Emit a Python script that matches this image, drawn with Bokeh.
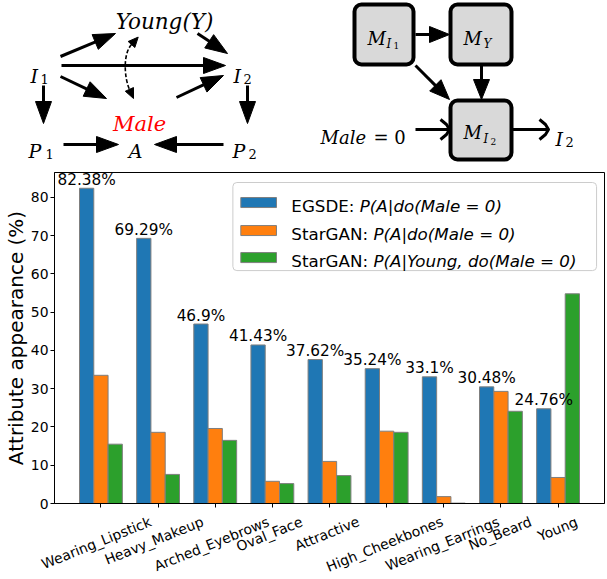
import math
from bokeh.plotting import figure
from bokeh.layouts import column
from bokeh.models import ColumnDataSource, Range1d, FixedTicker, LabelSet, Label, BoxAnnotation
from bokeh.transform import dodge
from bokeh.embed import file_html
from bokeh.resources import INLINE
from bokeh.core.properties import value

# ---------------- data ----------------
attributes = ["Wearing_Lipstick", "Heavy_Makeup", "Arched_Eyebrows", "Oval_Face", "Attractive",
              "High_Cheekbones", "Wearing_Earrings", "No_Beard", "Young"]
egsde_do = [82.38, 69.29, 46.9, 41.43, 37.62, 35.24, 33.1, 30.48, 24.76]
stargan_do = [33.5, 18.6, 19.6, 5.8, 11.0, 18.9, 1.8, 29.3, 6.8]
stargan_young_do = [15.5, 7.6, 16.5, 5.2, 7.3, 18.6, 0.1, 24.1, 54.8]
y_ticks = [0, 10, 20, 30, 40, 50, 60, 70, 80]
legend_prefix = ["EGSDE:", "StarGAN:", "StarGAN:"]
legend_math = ["P(A|do(Male = 0)", "P(A|do(Male = 0)", "P(A|Young, do(Male = 0)"]
bar_colors = ["#1f77b4", "#ff7f0e", "#2ca02c"]

# ---------------- layout constants ----------------
W = 607
H_TOP = 166
H_BOT = 346
H_STRIP = 66
FRAME_L = 49
FRAME_R = 3
BORDER_T = 6
BORDER_B = 9
SANS = "DejaVu Sans"
SERIF = "DejaVu Serif"


def px(v):
    return f"{v:.1f}px"


W_EM = {' ': .318, 'A': .684, 'B': .686, 'C': .698, 'D': .770, 'E': .632, 'F': .575, 'G': .775,
        'H': .752, 'L': .557, 'M': .863, 'N': .748, 'O': .787, 'S': .635, 'W': .989, 'Y': .612,
        '_': .5, ':': .337, 'a': .613, 'b': .635, 'c': .550, 'd': .635, 'e': .615, 'g': .635,
        'h': .634, 'i': .278, 'k': .579, 'l': .278, 'n': .634, 'o': .612, 'p': .635, 'r': .411,
        's': .521, 't': .392, 'u': .634, 'v': .592, 'w': .818, 'y': .592}


def text_em(s):
    return sum(W_EM.get(c, 0.6) for c in s)


# ---------------- top: diagrams ----------------
top = figure(width=W, height=H_TOP, x_range=Range1d(0, W), y_range=Range1d(0, H_TOP),
             x_axis_type=None, y_axis_type=None, output_backend="svg", toolbar_location=None,
             min_border=0)
top.frame_align = False
top.outline_line_color = None
top.grid.visible = False


def Y(y):
    return H_TOP - y


segs = dict(x0=[], y0=[], x1=[], y1=[])
heads = dict(xs=[], ys=[])


def head(tx, ty, ux, uy, hl, hw):
    nx, ny = -uy, ux
    bx, by = tx - hl * ux, ty - hl * uy
    heads["xs"].append([tx, bx + nx * hw / 2, bx - nx * hw / 2])
    heads["ys"].append([Y(ty), Y(by + ny * hw / 2), Y(by - ny * hw / 2)])
    return bx, by


def arrow(x0, y0, x1, y1, hl=22, hw=16):
    d = math.hypot(x1 - x0, y1 - y0)
    ux, uy = (x1 - x0) / d, (y1 - y0) / d
    bx, by = head(x1, y1, ux, uy, hl, hw)
    segs["x0"].append(x0)
    segs["y0"].append(Y(y0))
    segs["x1"].append(bx + ux)
    segs["y1"].append(Y(by + uy))


# left causal graph
arrow(60, 56, 115, 33)
arrow(197, 33, 227, 53)
arrow(61, 65, 225, 65)
arrow(60, 76, 106, 98)
arrow(176, 97, 223, 75)
arrow(43, 85, 43, 123)
arrow(247, 85, 247, 123)
arrow(63, 144, 118, 144)
arrow(223, 144, 154, 144)
# right graph
arrow(415, 34, 449, 34, 20, 16)
arrow(481, 65, 481, 99, 20, 16)
arrow(415, 65, 449, 99, 20, 16)

top.segment(x0="x0", y0="y0", x1="x1", y1="y1", source=ColumnDataSource(segs),
            line_color="black", line_width=3)
top.patches(xs="xs", ys="ys", source=ColumnDataSource(heads), fill_color="black",
            line_color="black", line_width=1)

# dashed bidirectional curve
top.bezier(x0=131, y0=Y(44), x1=129, y1=Y(89), cx0=122, cy0=Y(54), cx1=124, cy1=Y(78),
           line_color="black", line_width=1.6, line_dash="4 2")
small = dict(xs=[], ys=[])
for (tx, ty, ux, uy) in [(137.7, 36.6, 0.67, -0.74), (133.0, 98.0, 0.41, 0.91)]:
    nx, ny = -uy, ux
    bx, by = tx - 10 * ux, ty - 10 * uy
    small["xs"].append([tx, bx + nx * 4.5, bx - nx * 4.5])
    small["ys"].append([Y(ty), Y(by + ny * 4.5), Y(by - ny * 4.5)])
top.patches(xs="xs", ys="ys", source=ColumnDataSource(small), fill_color="black",
            line_color="black", line_width=1)

# open-chevron arrows
top.segment(x0=[415, 512], y0=[Y(129), Y(129)], x1=[448, 547], y1=[Y(129), Y(129)],
            line_color="black", line_width=3)
top.multi_line(xs=[[440, 446, 449, 446, 440], [539, 545, 548, 545, 539]],
               ys=[[Y(119), Y(124), Y(129), Y(134), Y(139)]] * 2,
               line_color="black", line_width=3, line_join="round")

# rounded boxes
for (l, r, t, b) in [(354, 413, 4, 64), (450, 511, 4, 64), (450, 511, 100, 159)]:
    top.add_layout(BoxAnnotation(left=l, right=r, top=Y(t), bottom=Y(b), border_radius=7,
                                 fill_color="#d9d9d9", fill_alpha=1, line_color="black",
                                 line_alpha=1, line_width=4))


def tlabel(x, y, text, size, style="italic", font=SERIF, color="black", align="left"):
    top.add_layout(Label(x=x, y=Y(y), text=text, text_font=font, text_font_size=px(size),
                         text_font_style=style, text_color=color, text_align=align,
                         text_baseline="alphabetic"))


tlabel(164, 21, "Young(Y)", 21.5, align="center")
tlabel(30, 75, "I", 19)
tlabel(40, 78, "1", 13, "normal")
tlabel(233, 75, "I", 19)
tlabel(243, 78, "2", 13, "normal")
tlabel(139, 123, "Male", 21, color="red", align="center")
tlabel(28, 150, "P", 19)
tlabel(45, 153, "1", 13, "normal")
tlabel(135, 150, "A", 19, align="center")
tlabel(232, 150, "P", 19)
tlabel(248, 153, "2", 13, "normal")

tlabel(367, 38, "M", 18)
tlabel(386, 43, "I", 12)
tlabel(393, 45, "1", 9, "normal")
tlabel(463, 38, "M", 18)
tlabel(483, 43, "Y", 12)
tlabel(463, 132, "M", 18)
tlabel(483, 138, "I", 12)
tlabel(490, 141, "2", 9, "normal")
tlabel(320, 137, "Male", 18)
tlabel(373, 137, "= 0", 18, "normal")
tlabel(555, 138, "I", 19)
tlabel(565, 141, "2", 13, "normal")

# ---------------- middle: bar chart ----------------
n = len(attributes)
x_idx = list(range(n))
ymax = max(egsde_do) * 1.05
XPAD = 0.8125
bot = figure(width=W, height=H_BOT, x_range=Range1d(-XPAD, n - 1 + XPAD), y_range=Range1d(0, ymax),
             output_backend="svg", toolbar_location=None,
             min_border_left=FRAME_L, min_border_right=FRAME_R, min_border_top=BORDER_T,
             min_border_bottom=BORDER_B)
bot.frame_align = False
bot.grid.visible = False
bot.outline_line_color = "black"
bot.outline_line_alpha = 1
bot.outline_line_width = 1

for ax in (bot.xaxis, bot.yaxis):
    ax.axis_line_color = "black"
    ax.major_tick_line_color = "black"
    ax.minor_tick_line_color = None
    ax.major_tick_out = 4
    ax.major_tick_in = 0
bot.xaxis.ticker = FixedTicker(ticks=x_idx)
bot.xaxis.major_label_overrides = {i: "" for i in x_idx}
bot.xaxis.major_label_text_font_size = "0px"
bot.xaxis.major_label_standoff = 0
bot.yaxis.ticker = FixedTicker(ticks=y_ticks)
bot.yaxis.major_label_text_font = SANS
bot.yaxis.major_label_text_font_size = px(13.9)
bot.yaxis.major_label_text_color = "black"
bot.yaxis.major_label_standoff = 2
bot.yaxis.axis_label = "Attribute appearance (%)"
bot.yaxis.axis_label_text_font = SANS
bot.yaxis.axis_label_text_font_size = px(20)
bot.yaxis.axis_label_text_font_style = "normal"
bot.yaxis.axis_label_text_color = "black"
bot.yaxis.axis_label_standoff = 0

theta = math.radians(22)
fs_tick = 13.9
label_y = [H_STRIP - (9.7 - BORDER_B + (text_em(a) * fs_tick * math.sin(theta)
                                        + 1.164 * fs_tick * math.cos(theta)) / 2)
           for a in attributes]

src = ColumnDataSource(dict(x=x_idx, egsde=egsde_do, sg=stargan_do, sgy=stargan_young_do,
                            pct=[f"{v}%" for v in egsde_do], name=attributes, ly=label_y))

for field, off, c in zip(["egsde", "sg", "sgy"], [-0.25, 0.0, 0.25], bar_colors):
    bot.vbar(x=dodge("x", off), top=field, width=0.25, source=src, fill_color=c,
             line_color="#7f7f7f", line_width=1)

bot.add_layout(LabelSet(x=dodge("x", -0.25), y="egsde", text="pct", source=src,
                        text_align="center", text_baseline="alphabetic", y_offset=3.5,
                        text_font=value(SANS), text_font_size=value(px(15.3)), text_color="black"))


# legend (built manually for mixed upright / italic text)
def XD(p):
    return -XPAD + (p - 49) * (n - 1 + 2 * XPAD) / (604 - 49)


def YD(p):
    return (502.7 - p) * ymax / (502.7 - 172)


bot.add_layout(BoxAnnotation(left=XD(229), right=XD(596), top=YD(182), bottom=YD(270),
                             border_radius=4, fill_color="white", fill_alpha=0.8,
                             line_color="#cccccc", line_alpha=1, line_width=1))
for i, c in enumerate(bar_colors):
    cy = [202, 230, 257][i]
    base = [205, 233, 260][i]
    bot.add_layout(BoxAnnotation(left=XD(237), right=XD(273), top=YD(cy - 5), bottom=YD(cy + 5),
                                 fill_color=c, fill_alpha=1, line_color="#7f7f7f", line_alpha=1,
                                 line_width=1))
    bot.add_layout(Label(x=XD(288), y=YD(base), text=legend_prefix[i], text_font=SANS,
                         text_font_size=px(16.7), text_color="black", text_baseline="alphabetic"))
    bot.add_layout(Label(x=XD(288), y=YD(base), x_offset=text_em(legend_prefix[i] + " ") * 16.7,
                         text=legend_math[i], text_font=SANS, text_font_style="italic",
                         text_font_size=px(16.7), text_color="black", text_baseline="alphabetic"))

# ---------------- bottom strip: rotated category labels ----------------
upx = (n - 1 + 2 * XPAD) / (W - FRAME_L - FRAME_R)
strip = figure(width=W, height=H_STRIP,
               x_range=Range1d(-XPAD - FRAME_L * upx, n - 1 + XPAD + FRAME_R * upx),
               y_range=Range1d(0, H_STRIP),
               x_axis_type=None, y_axis_type=None, output_backend="svg", toolbar_location=None,
               min_border=0)
strip.frame_align = False
strip.outline_line_color = None
strip.grid.visible = False
strip.add_layout(LabelSet(x="x", y="ly", text="name", source=src, angle=theta,
                          text_align="center", text_baseline="middle",
                          text_font=value(SANS), text_font_size=value(px(fs_tick)), text_color="black"))

layout = column(top, bot, strip)
open("out.html", "w").write(file_html(layout, INLINE))
